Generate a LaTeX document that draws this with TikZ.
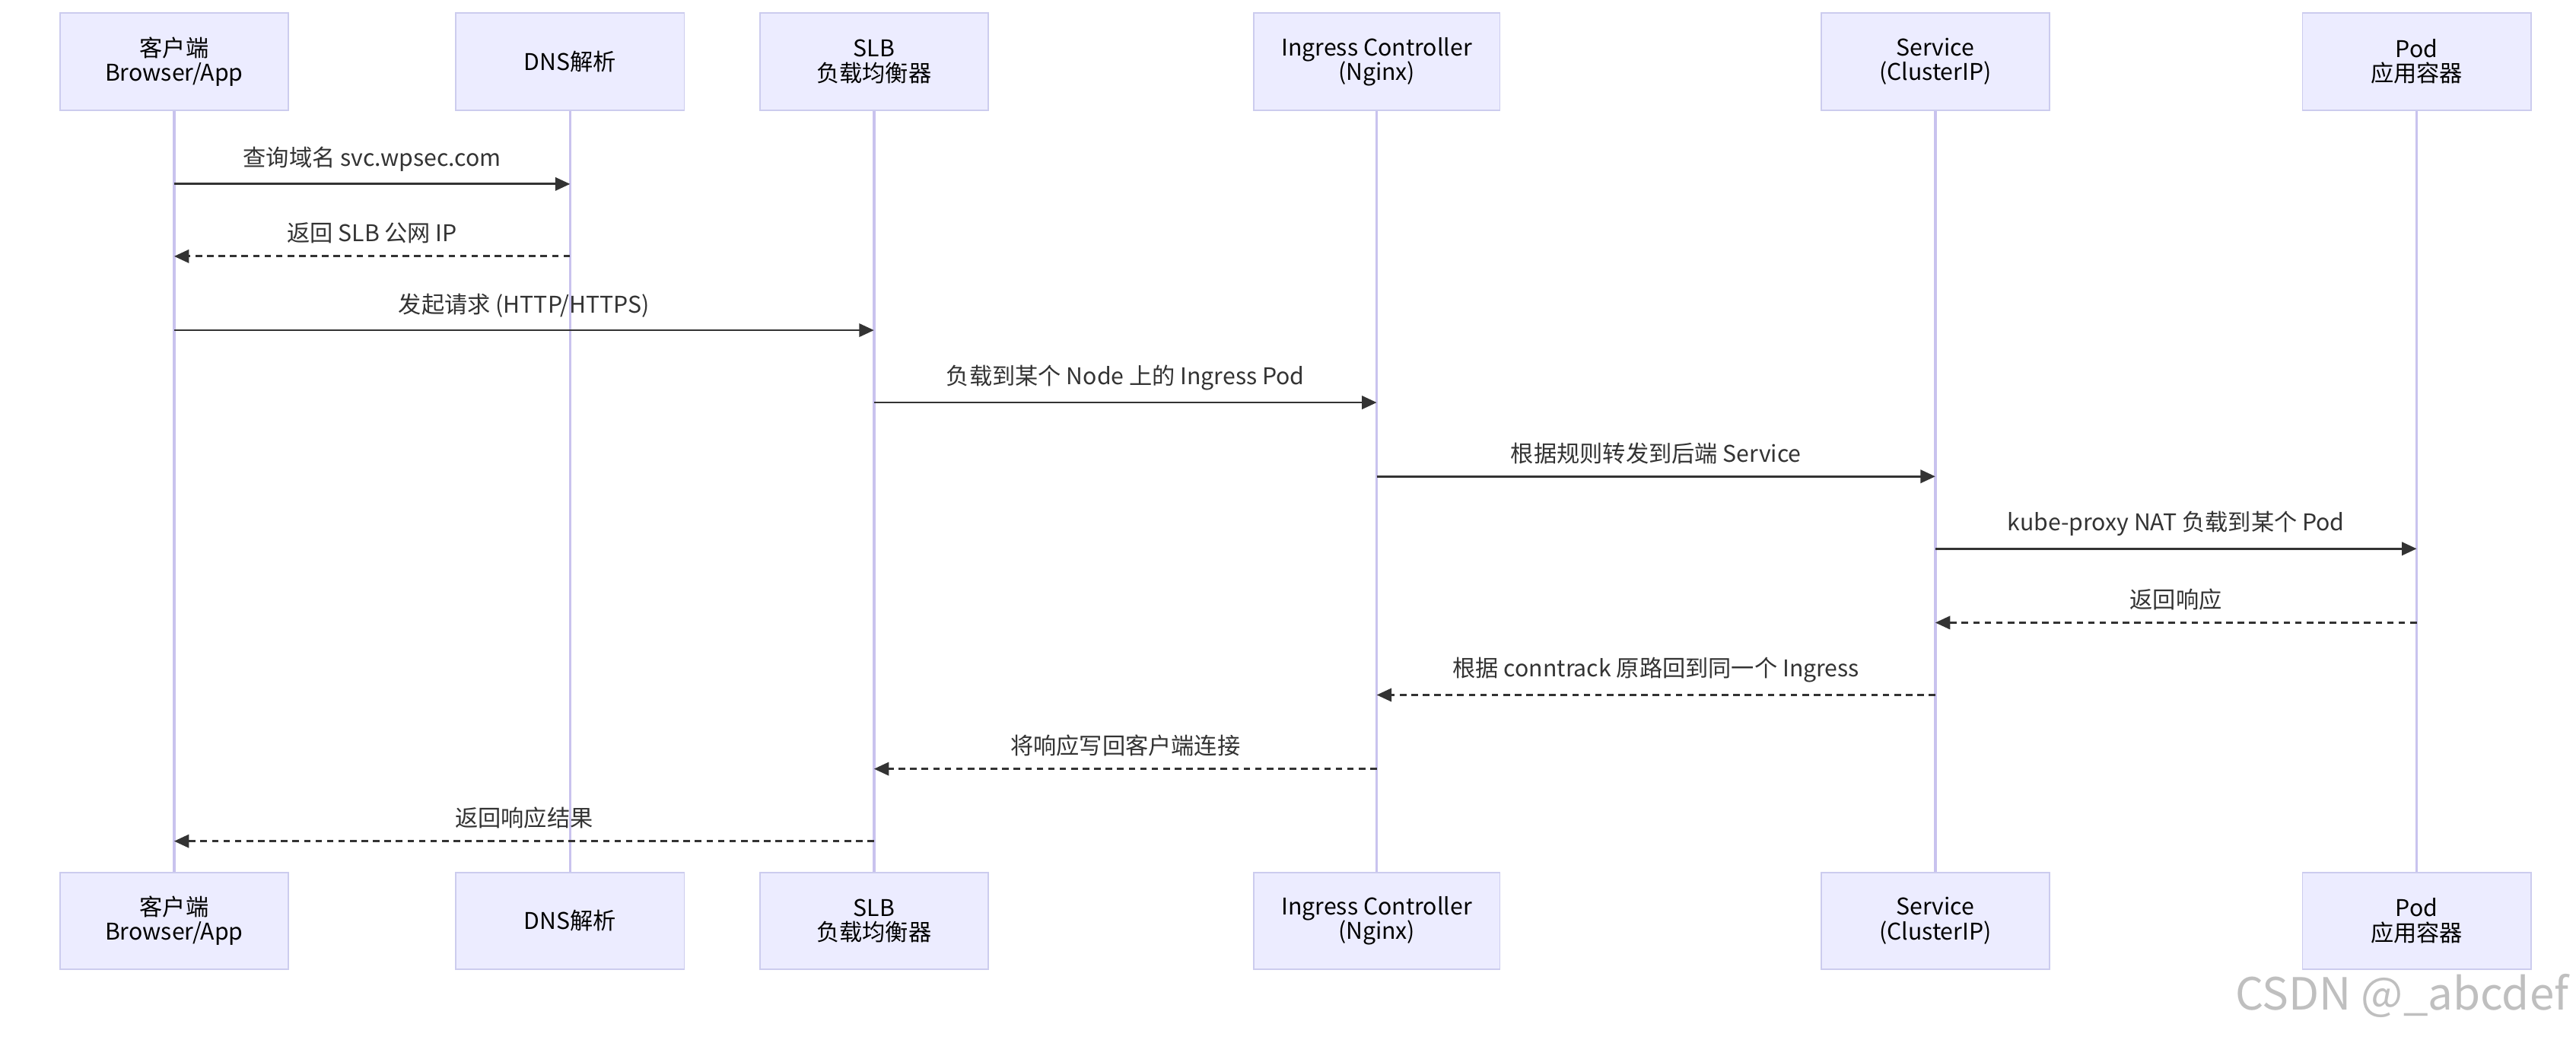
\documentclass[tikz,border=0pt]{standalone}
\usepackage{fontspec}
\setmainfont{Noto Sans CJK SC}
\usetikzlibrary{arrows.meta}
\definecolor{boxfill}{HTML}{ECECFF}
\definecolor{boxline}{HTML}{CCCCEE}
\definecolor{lifeline}{HTML}{C9C3EE}
\definecolor{msg}{HTML}{333333}
\tikzset{
 actor/.style={draw=boxline,fill=boxfill,line width=0.8pt,minimum height=59pt,align=center,font=\fontsize{14}{15}\selectfont,inner sep=0pt},
 life/.style={draw=lifeline,line width=1.6pt},
 m/.style={draw=msg,line width=1.3pt,-{Triangle[length=9pt,width=8pt]}},
 r/.style={m,dash pattern=on 4pt off 3pt},
 lab/.style={font=\fontsize{14}{15}\selectfont,text=msg,anchor=south,inner sep=2pt}
}
\begin{document}
\begin{tikzpicture}[x=1pt,y=-1pt]
\useasboundingbox[fill=white] (0,0) rectangle (1568,633);
\def\acts{a/106/139/{客户端\\Browser/App},b/347/139/DNS解析,c/532/139/SLB\\负载均衡器,d/838/150/Ingress Controller\\(Nginx),e/1178/139/Service\\(ClusterIP),f/1471/139/Pod\\应用容器}
\foreach \n/\x/\w/\t in \acts {
  \draw[life] (\x,67) -- (\x,531);
  \node[actor,minimum width=\w pt] (\n t) at (\x,37.5) {\t};
  \node[actor,minimum width=\w pt] (\n b) at (\x,560.5) {\t};
}
\foreach \n/\x in {a/106,b/347,c/532,d/838,e/1178,f/1471}{
  \foreach \y in {112,156,201,245,290,334,379,423,468,512}{\coordinate (\n\y) at (\x,\y);}
}
\draw[m] (a112) -- node[lab,above=5pt]{查询域名 svc.wpsec.com} (b112);
\draw[r] (b156) -- node[lab,above=5pt]{返回 SLB 公网 IP} (a156);
\draw[m] (a201) -- node[lab,above=5pt]{发起请求 (HTTP/HTTPS)} (c201);
\draw[m] (c245) -- node[lab,above=5pt]{负载到某个 Node 上的 Ingress Pod} (d245);
\draw[m] (d290) -- node[lab,above=5pt]{根据规则转发到后端 Service} (e290);
\draw[m] (e334) -- node[lab,above=5pt]{kube-proxy NAT 负载到某个 Pod} (f334);
\draw[r] (f379) -- node[lab,above=5pt]{返回响应} (e379);
\draw[r] (e423) -- node[lab,above=5pt]{根据 conntrack 原路回到同一个 Ingress} (d423);
\draw[r] (d468) -- node[lab,above=5pt]{将响应写回客户端连接} (c468);
\draw[r] (c512) -- node[lab,above=5pt]{返回响应结果} (a512);
\node[font=\fontsize{27}{29}\selectfont,text=black!25,anchor=east] (wm) at (1567,606) {CSDN @\_abcdef};
\end{tikzpicture}
\end{document}
